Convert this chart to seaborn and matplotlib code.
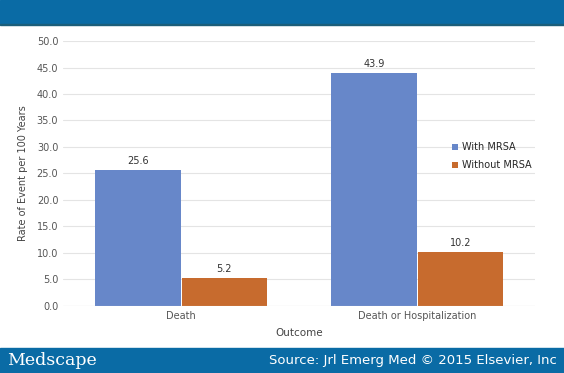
import pandas as pd
import seaborn as sns
import matplotlib.pyplot as plt
from matplotlib.patches import Rectangle

outcomes = ['Death', 'Death or Hospitalization']
with_mrsa = [25.6, 43.9]
without_mrsa = [5.2, 10.2]
groups = ['With MRSA', 'Without MRSA']
colors = ['#6787C9', '#C76B2E']

df = pd.DataFrame({
    'Outcome': outcomes * 2,
    'Rate': with_mrsa + without_mrsa,
    'Group': [groups[0]] * 2 + [groups[1]] * 2,
})

sns.set_style('white')
fig = plt.figure(figsize=(5.64, 3.73), dpi=100)
ax = fig.add_axes([0.112, 0.18, 0.837, 0.71])

sns.barplot(data=df, x='Outcome', y='Rate', hue='Group', palette=colors,
            width=0.73, gap=0.01, saturation=1, linewidth=0, ax=ax, zorder=3)

for cont in ax.containers:
    ax.bar_label(cont, fmt='%.1f', padding=3, fontsize=7, color='#333333')

ax.set_ylim(0, 50)
ax.set_yticks(range(0, 51, 5))
ax.set_yticklabels([f'{v:.1f}' for v in range(0, 51, 5)])
ax.yaxis.grid(True, color='#e4e4e4', linewidth=0.8, zorder=0)
ax.tick_params(axis='both', labelsize=7, colors='#555555', length=0)
for s in ax.spines.values():
    s.set_visible(False)
ax.axhline(0, color='#d9d9d9', linewidth=0.8, zorder=4)

ax.set_xlabel('Outcome', fontsize=7.5, color='#444444', labelpad=5)
ax.set_ylabel('Rate of Event per 100 Years', fontsize=7, color='#444444', labelpad=6)

ax.legend(loc='center right', bbox_to_anchor=(1.01, 0.565), frameon=False,
          fontsize=7, handlelength=0.6, handleheight=0.6, labelspacing=0.8,
          handletextpad=0.4)

# header and footer bands
fig.patches.append(Rectangle((0, 0.935), 1, 0.065, transform=fig.transFigure,
                             color='#0A6BA5', zorder=0))
fig.patches.append(Rectangle((0, 0.932), 1, 0.004, transform=fig.transFigure,
                             color='#1B5E7A', zorder=0))
fig.patches.append(Rectangle((0, 0), 1, 0.068, transform=fig.transFigure,
                             color='#0A6BA5', zorder=0))
fig.text(0.012, 0.034, 'Medscape', family='DejaVu Serif', fontsize=12.5,
         color='white', va='center', ha='left')
fig.text(0.988, 0.034, 'Source: Jrl Emerg Med \u00a9 2015 Elsevier, Inc',
         fontsize=9.5, color='white', va='center', ha='right')

fig.savefig('out.png', dpi=100)
